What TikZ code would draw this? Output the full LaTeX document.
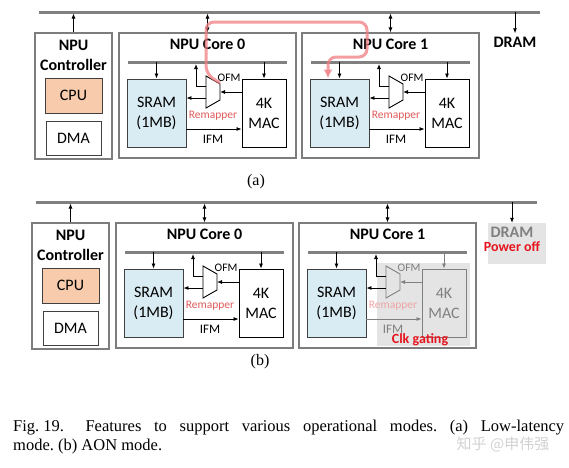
\documentclass[tikz,border=0pt]{standalone}
\usepackage{fontspec}
\setmainfont{Liberation Serif}
\newfontfamily\carlito{Carlito}
\newfontfamily\cjkfont{Noto Sans CJK SC}
\usetikzlibrary{arrows.meta}
\definecolor{busgray}{RGB}{128,128,128}
\definecolor{boxgray}{RGB}{125,125,125}
\definecolor{sramblue}{RGB}{218,236,243}
\definecolor{cpupeach}{RGB}{248,203,173}
\definecolor{remapred}{RGB}{224,90,90}
\definecolor{pathpink}{RGB}{240,125,130}
\definecolor{gatefill}{RGB}{228,228,228}
\definecolor{offred}{RGB}{230,20,30}

\begin{document}
\begin{tikzpicture}
          [x=1pt,y=-1pt,>={Latex[length=5pt,width=4pt]},
          bus/.style={busgray,line width=3pt},
          wire/.style={line width=0.8pt},
          outerbox/.style={draw=boxgray,line width=1.1pt,inner sep=0pt},
          innerbox/.style={draw=black!75,line width=0.9pt,inner sep=0pt,align=center,font=\carlito\fontsize{16}{20}\selectfont},
          ttl/.style={font=\carlito\bfseries\fontsize{16}{20}\selectfont,align=center},
          lbl/.style={font=\carlito\fontsize{11.5}{13}\selectfont,inner sep=1pt},
          warn/.style={font=\carlito\bfseries\fontsize{14}{16}\selectfont,text=offred}]
          \useasboundingbox (0,0) rectangle (569,467);
          % gated parts of (b)
          \fill[gatefill] (377,263) rectangle (470,346);
          \node[fill=gatefill,minimum width=58,minimum height=41] (dramb) at (517,243.5) {};
          % bus and controller, (a) then (b)
          \foreach \px/\py/\p in {0/0/a,-3/190/b}{
            \begin{scope}[shift={(\px,\py)}]
              \coordinate (bus\p) at (39,12);
              \draw[bus] (bus\p) -- (540,12);
              \node[outerbox,minimum width=77,minimum height=126] (ctrl\p) at (73.5,96) {};
              \node[ttl] (ctrltxt\p) at (73.5,55) {NPU\\Controller};
              \node[innerbox,fill=cpupeach,minimum width=57,minimum height=35] (cpu\p) at (73.5,95.5) {CPU};
              \node[innerbox,minimum width=55,minimum height=34] (dma\p) at (73.5,138) {DMA};
              \draw[wire,->,shorten >=1.5pt] (ctrl\p) -- (bus\p -| ctrl\p.north);
            \end{scope}
          }
          % the four cores
          \foreach \cx/\cy/\p/\n/\gc/\mf/\rc in {0/0/a/0/black/white/remapred,183/0/a/1/black/white/remapred,
                                                 -3/190/b/0/black/white/remapred,180/190/b/1/gray/gatefill/remapred!55}{
            \begin{scope}[shift={(\cx,\cy)}]
              \node[outerbox,minimum width=177,minimum height=125] (core\p\n) at (207.5,95.5) {};
              \node[ttl] (coretxt\p\n) at (207.5,44) {NPU Core \n};
              \draw[wire,<->,shorten >=1.5pt] (core\p\n) -- (bus\p -| core\p\n.north);
              \coordinate (ibus\p\n) at (128,62);
              \draw[bus] (ibus\p\n) -- (287,62);
              \node[innerbox,fill=sramblue,minimum width=59,minimum height=68] (sram\p\n) at (156.5,113) {SRAM\\(1MB)};
              \node[innerbox,draw=\gc,text=\gc,fill=\mf,minimum width=44,minimum height=68] (mac\p\n) at (264,113) {4K\\MAC};
              \draw[wire,->] (ibus\p\n -| sram\p\n.north) -- (sram\p\n.north);
              \draw[wire,->,\gc] (ibus\p\n -| mac\p\n.north) -- (mac\p\n.north);
              % remapper
              \draw[line width=0.9pt,draw=\gc] (206,76) -- (220,84) -- (220,100) -- (206,108) -- cycle;
              \coordinate (rmpR\p\n) at (220,92);
              \coordinate (rmpL\p\n) at (206,98);
              \coordinate (rmpU\p\n) at (206,86);
              \coordinate (ofm\p\n) at (220,83);
              \coordinate (wb\p\n) at (196,64);
              \coordinate (ifm\p\n) at (213,129);
              \draw[wire,->,\gc] (mac\p\n.west |- rmpR\p\n) -- (rmpR\p\n);
              \draw[wire,->] (rmpL\p\n) -- (sram\p\n.east |- rmpL\p\n);
              \draw[wire,->] (rmpU\p\n) -| (wb\p\n);
              \draw[wire,->,\gc] (sram\p\n.east |- ifm\p\n) -- (mac\p\n.west |- ifm\p\n);
              \node[lbl,text=\gc] (ofmtxt\p\n) at (229,78) {OFM};
              \node[lbl,text=\rc] (rmptxt\p\n) at (213,116) {Remapper};
              \node[lbl,text=\gc,font=\carlito\fontsize{13}{15}\selectfont] (ifmtxt\p\n) at (213,139) {IFM};
            \end{scope}
          }
          % DRAM
          \node[ttl] (drama) at (515,42) {DRAM};
          \draw[wire,->] (busa -| drama.north) -- (drama.north);
          \node[ttl,text=busgray] (dramtxt) at (512,232) {DRAM};
          \node[warn] (poweroff) at (512,247) {Power off};
          \draw[wire,->] (busb -| dramtxt) -- (dramb.north -| dramtxt);
          \node[warn] (clkgate) at (420,340) {Clk gating};
          % low-latency path from core 0 to core 1
          \draw[pathpink,line width=3pt,opacity=0.75,rounded corners=8pt,-{Latex[length=9pt,width=9pt]}]
            (ofma0) -- (206,74) -- (206,22) -- (367,22) -- (367,57) -- (328,57) -- ([xshift=-11.5pt]srama1.north);
          \node[font=\fontsize{16}{19}\selectfont] (laba) at (256,182) {(a)};
          \node[font=\fontsize{16}{19}\selectfont] (labb) at (260,362) {(b)};
          \node[anchor=north west,inner sep=0pt,text width=551pt,align=justify,font=\fontsize{16.5}{19}\selectfont] (caption) at (13,420)
            {\frenchspacing Fig.\hspace{0.25em}19.\hspace{1.3em}Features to support various operational modes. (a) Low-latency\linebreak mode. (b) AON mode.};
          \node[inner sep=0pt,font=\cjkfont\fontsize{15}{17}\selectfont,text=black!18] (mark) at (503,444) {知乎 @申伟强};
        \end{tikzpicture}
\end{document}
